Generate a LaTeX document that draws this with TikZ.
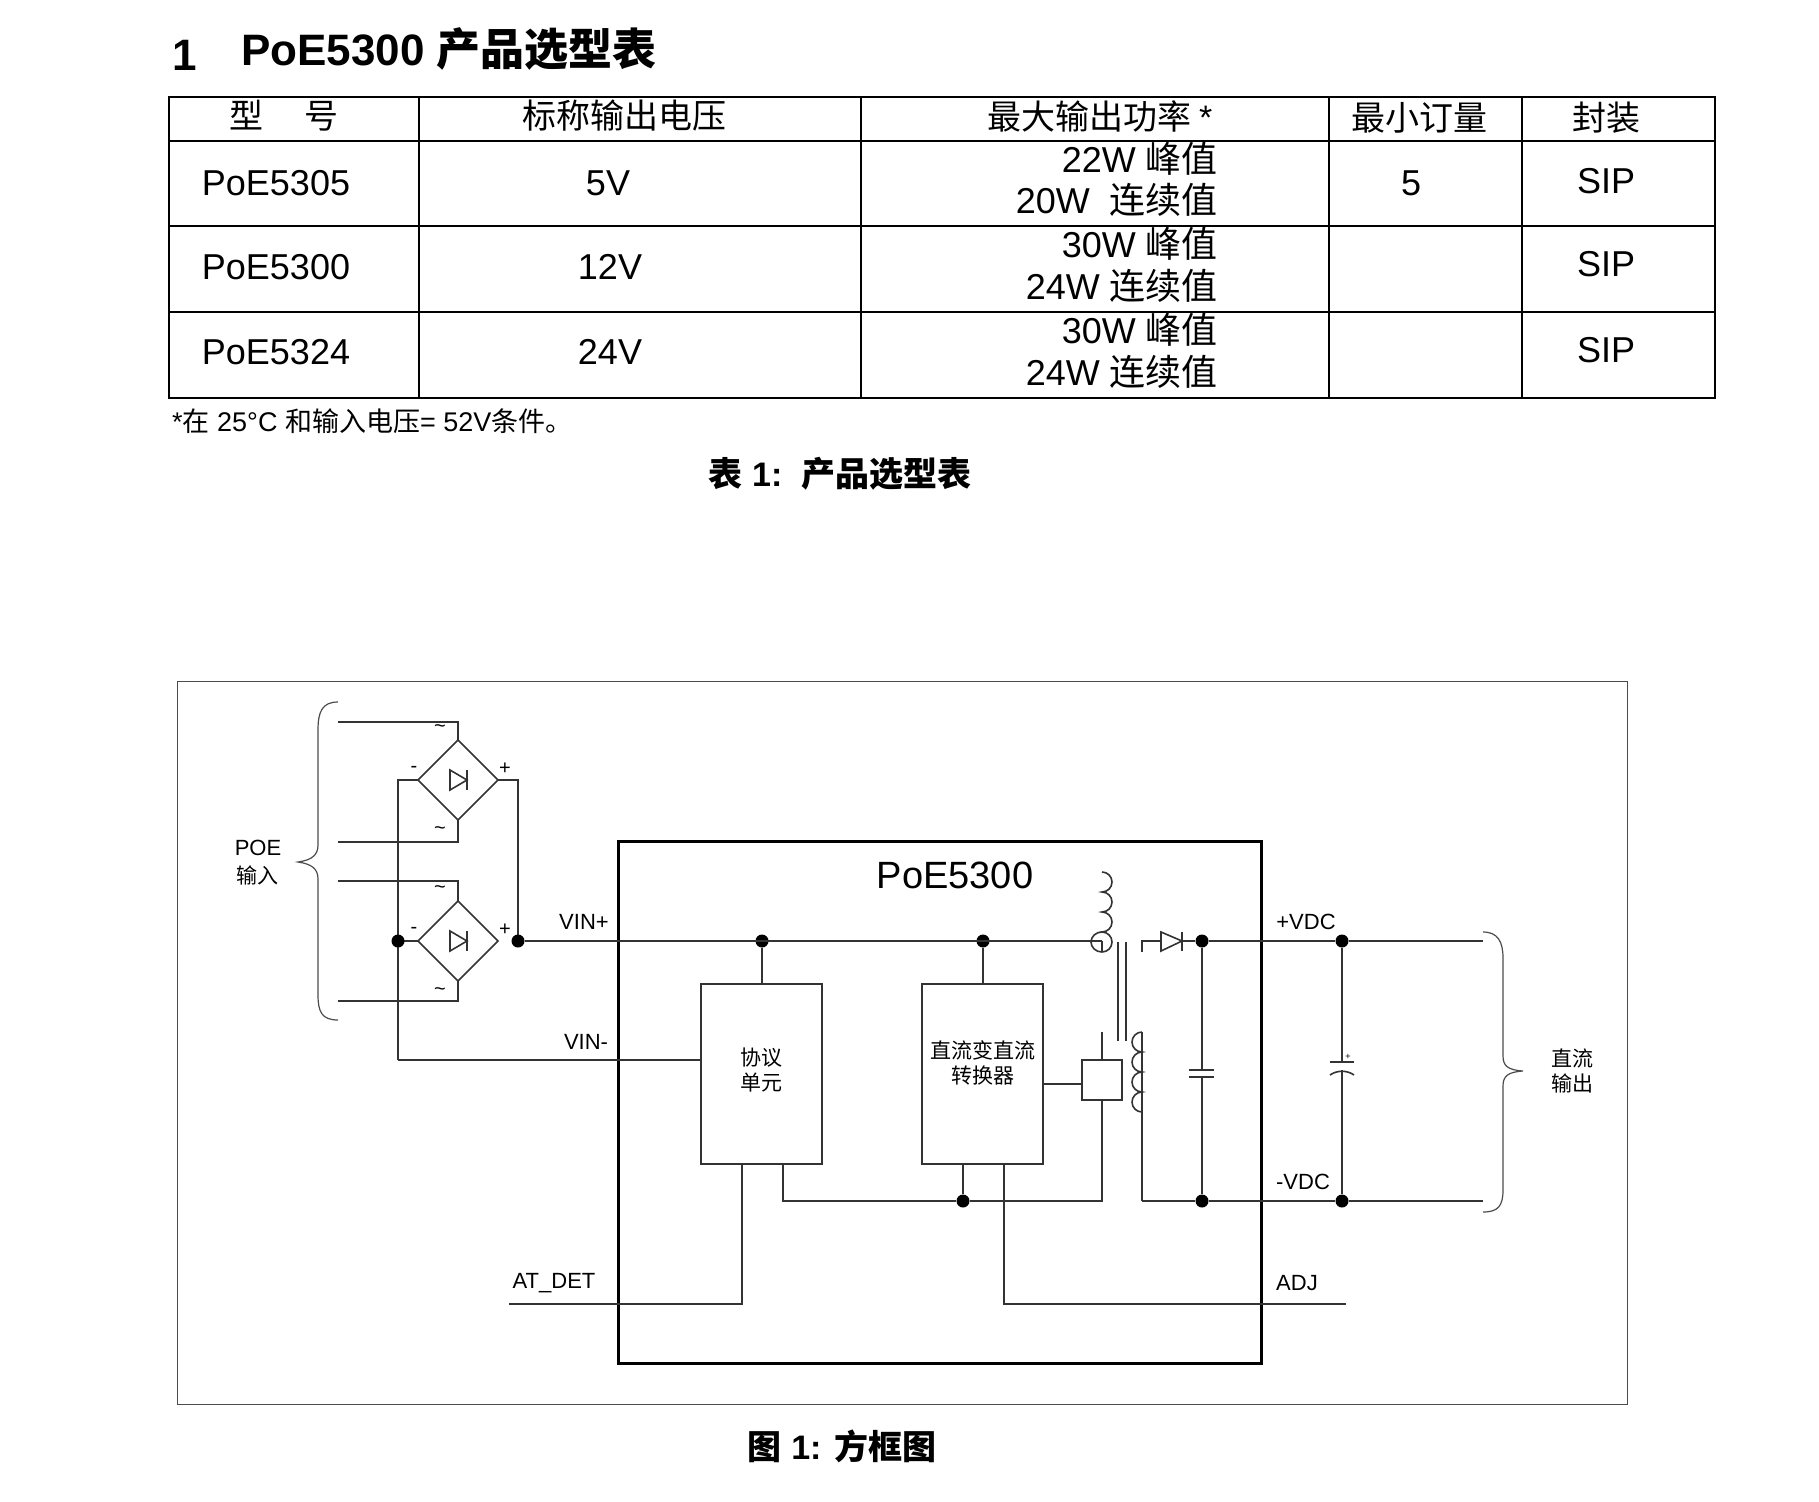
\documentclass[tikz,border=0pt]{standalone}
\usepackage{fontspec}
\setmainfont{Liberation Sans}
\newfontfamily\cjk{Noto Sans CJK SC}
\begin{document}
\begin{tikzpicture}[x={(1pt,0)},y={(0,-1pt)},
  wire/.style={line width=1.6pt,draw=black!80},
  thick box/.style={line width=3pt,draw=black},
  dotc/.style={circle,fill=black,inner sep=0pt,minimum size=13pt},
  lbl/.style={font=\fontsize{22}{24}\selectfont,inner sep=0pt},
  cl/.style={font=\cjk\fontsize{21}{25}\selectfont,inner sep=0pt,align=center},
  tb/.style={font=\fontsize{36}{40}\selectfont,inner sep=0pt},
  tc/.style={font=\cjk\fontsize{34}{40}\selectfont,inner sep=0pt},
  sm/.style={font=\fontsize{20}{22}\selectfont,inner sep=0pt}]
\useasboundingbox[fill=white] (0,0) rectangle (1819,1501);
% heading
\node[anchor=west,font=\bfseries\fontsize{44}{48}\selectfont,inner sep=0pt] (h1) at (172,55) {1};
\node[anchor=west,font=\bfseries\fontsize{44}{48}\selectfont,inner sep=0pt] (h2) at (241,49) {PoE5300 {\cjk 产品选型表}};
% table
\draw[line width=1.3pt] (169,97) rectangle (1715,398);
\foreach \y in {141,226,312} \draw[line width=1.3pt] (169,\y) -- (1715,\y);
\foreach \x in {419,861,1329,1522} \draw[line width=1.3pt] (\x,97) -- (\x,398);
\node[tc] (t1) at (284,116) {型\hspace{1.2em}号};
\node[tc] (t2) at (624,116) {标称输出电压};
\node[tc] (t3) at (1100,116) {最大输出功率 {\fontspec{Liberation Sans}*}};
\node[tc] (t4) at (1419,118) {最小订量};
\node[tc] (t5) at (1606,118) {封装};
\node[tb] (r1a) at (276,183) {PoE5305};
\node[tb] (r2a) at (276,267) {PoE5300};
\node[tb] (r3a) at (276,352) {PoE5324};
\node[tb] (r1b) at (608,183) {5V};
\node[tb] (r2b) at (610,267) {12V};
\node[tb] (r3b) at (610,352) {24V};
\node[tb,anchor=east] (r1c1) at (1218,159) {22W {\cjk 峰值}};
\node[tb,anchor=east] (r1c2) at (1218,200) {20W\ \ {\cjk 连续值}};
\node[tb,anchor=east] (r2c1) at (1218,244) {30W {\cjk 峰值}};
\node[tb,anchor=east] (r2c2) at (1218,286) {24W {\cjk 连续值}};
\node[tb,anchor=east] (r3c1) at (1218,330) {30W {\cjk 峰值}};
\node[tb,anchor=east] (r3c2) at (1218,372) {24W {\cjk 连续值}};
\node[tb] (r1d) at (1411,183) {5};
\node[tb] (r1e) at (1606,181) {SIP};
\node[tb] (r2e) at (1606,264) {SIP};
\node[tb] (r3e) at (1606,350) {SIP};
\node[anchor=west,font=\fontsize{27}{30}\selectfont,inner sep=0pt] (fn) at (172,421) {*{\cjk 在} 25°C {\cjk 和输入电压}= 52V{\cjk 条件。}};
\node[font=\bfseries\fontsize{34}{38}\selectfont,inner sep=0pt] (cap1) at (840,474) {{\cjk 表} 1:\ \ {\cjk 产品选型表}};
% outer frame
\draw[line width=1pt,draw=black!70] (177,681) rectangle (1627,1404);
% main box
\draw[thick box] (618,841) rectangle (1261,1363);
\node[font=\fontsize{38}{40}\selectfont,inner sep=0pt] (title) at (955,875) {PoE5300};
% bridges
\foreach \c/\n in {780/a,941/b}{
  \coordinate (br\n) at (458,\c);
  \draw[wire] (458,\c-40) -- (498,\c) -- (458,\c+40) -- (418,\c) -- cycle;
  \draw[wire] (450,\c-10) -- (450,\c+10) -- (467,\c) -- cycle;
  \draw[wire] (467,\c-10) -- (467,\c+10);
  \node[sm] at (440,\c-51) {\textasciitilde};
  \node[sm] at (440,\c+51) {\textasciitilde};
  \node[sm] at (414,\c-11) {-};
  \node[sm] at (505,\c-11) {+};
}
\node[sm] at (440,730) {};
% input wires
\draw[wire] (338,722) -- (458,722) -- (458,740);
\draw[wire] (338,842) -- (458,842) -- (458,820);
\draw[wire] (338,881) -- (458,881) -- (458,901);
\draw[wire] (338,1001) -- (458,1001) -- (458,981);
\draw[wire] (418,780) -- (398,780) -- (398,1060);
\draw[wire] (498,780) -- (518,780) -- (518,941);
\draw[wire] (418,941) -- (398,941);
\node[dotc] (dl) at (398,941) {};
\node[dotc] (dr) at (518,941) {};
% input brace
\draw[line width=1.2pt,draw=black!70] (338,702) .. controls (322,702) and (318,712) .. (318,730) -- (318,845) .. controls (318,855) and (312,860) .. (298,862) .. controls (312,864) and (318,869) .. (318,879) -- (318,995) .. controls (318,1012) and (322,1020) .. (338,1020);
\node[lbl] (poe) at (258,848) {POE};
\node[cl] (poe2) at (257,875) {输入};
% VIN lines
\node[dotc] (d1) at (762,941) {};
\node[dotc] (d2) at (983,941) {};
\draw[wire] (dr) -- (1102,941);
\node[lbl] (vinp) at (584,922) {VIN+};
\node[lbl] (vinm) at (586,1042) {VIN-};
\draw[wire] (398,1060) -- (701,1060);
% inner boxes
\draw[wire] (701,984) rectangle (822,1164);
\draw[wire] (922,984) rectangle (1043,1164);
\node[cl] (pu) at (761,1070) {协议\\单元};
\node[cl] (dc) at (983,1063) {直流变直流\\转换器};
\draw[wire] (d1) -- (762,984);
\draw[wire] (d2) -- (983,984);
% transformer primary
\draw[wire] (1102,941) -- (1102,952);
\draw[wire] (1102,952) arc (-90:90:-11 and -10);
\draw[wire] (1102,952) \foreach \i in {0,1,2,3} { arc (90:-90:10) };
\draw[wire] (1102,1032) -- (1102,1060);
\draw[wire] (1118,942) -- (1118,1041);
\draw[wire] (1126,942) -- (1126,1041);
% secondary
\draw[wire] (1142,1032) \foreach \i in {0,1,2,3} { arc (-90:-270:10) };
\draw[wire] (1142,952) -- (1142,941) -- (1161,941);
\draw[wire] (1142,1032) -- (1142,1201);
% diode
\draw[wire] (1161,932) -- (1161,951) -- (1182,941) -- cycle;
\draw[wire] (1182,932) -- (1182,951);
\node[dotc] (d3) at (1202,941) {};
\draw[wire] (1182,941) -- (d3);
\node[dotc] (d5) at (1342,941) {};
\draw[wire] (d3) -- (d5) -- (1483,941);
\node[dotc] (d4) at (1202,1201) {};
\node[dotc] (d6) at (1342,1201) {};
\node[dotc] (d7) at (963,1201) {};
\draw[wire] (1142,1201) -- (d4) -- (d6) -- (1483,1201);
% caps
\draw[wire] (d3) -- (1202,1070);
\draw[wire] (1202,1077) -- (d4);
\draw[wire] (1189,1070) -- (1214,1070);
\draw[wire] (1189,1077) -- (1214,1077);
\draw[wire] (d5) -- (1342,1062);
\draw[wire] (1330,1062) -- (1354,1062);
\draw[wire] (1330,1075) .. controls (1337,1070) and (1347,1070) .. (1354,1075);
\draw[wire] (1342,1070) -- (d6);
\node[font=\fontsize{9}{10}\selectfont,inner sep=0pt] at (1348,1057) {+};
% switch box
\draw[wire] (1082,1060) rectangle (1122,1100);
\draw[wire] (1043,1084) -- (1082,1084);
\draw[wire] (1102,1100) -- (1102,1201) -- (d7) -- (783,1201) -- (783,1164);
\draw[wire] (d7) -- (963,1164);
% AT_DET, ADJ
\draw[wire] (742,1164) -- (742,1304) -- (509,1304);
\draw[wire] (1004,1164) -- (1004,1304) -- (1346,1304);
\node[lbl] (atdet) at (554,1283) {AT\_DET};
\node[lbl] (adj) at (1297,1283) {ADJ};
\node[lbl] (pvdc) at (1306,922) {+VDC};
\node[lbl] (mvdc) at (1303,1182) {-VDC};
% output brace
\draw[line width=1.2pt,draw=black!70] (1483,932) .. controls (1498,932) and (1503,942) .. (1503,958) -- (1503,1056) .. controls (1503,1066) and (1508,1070) .. (1523,1071) .. controls (1508,1072) and (1503,1076) .. (1503,1086) -- (1503,1190) .. controls (1503,1206) and (1498,1212) .. (1483,1212);
\node[cl] (out) at (1572,1071) {直流\\输出};
\node[font=\bfseries\fontsize{34}{38}\selectfont,inner sep=0pt] (cap2) at (842,1446) {{\cjk 图} 1: {\cjk 方框图}};
\end{tikzpicture}
\end{document}
